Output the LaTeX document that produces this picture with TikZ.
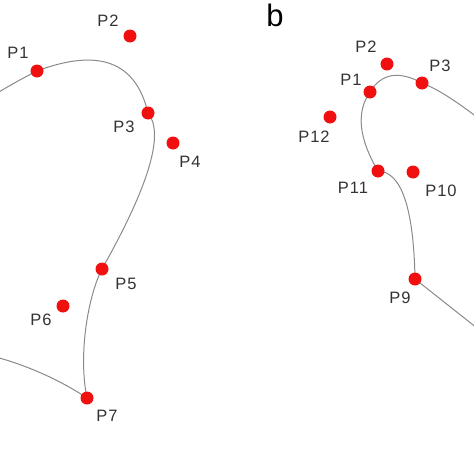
\documentclass[tikz,border=0pt]{standalone}
\usepackage{fontspec}
\setmainfont{Liberation Sans}
\newfontfamily\lblfont[LetterSpace=6]{Liberation Sans}
\usetikzlibrary{calc}
\definecolor{dotred}{HTML}{F01010}
\definecolor{curvegray}{HTML}{8A8A8A}
\definecolor{labelgray}{HTML}{333333}
\tikzset{
  dot/.style={circle,fill=dotred,inner sep=0pt,minimum size=13pt},
  lbl/.style={text=labelgray,font=\lblfont\fontsize{16.5}{16.5}\selectfont,inner sep=0pt},
  curve/.style={draw=curvegray,line width=1pt},
}
\begin{document}
\begin{tikzpicture}[x=1pt,y=-1pt]
\useasboundingbox (0,0) rectangle (474,474);
\clip (0,0) rectangle (474,474);
% ---- panel a ----
\coordinate (a0) at (-6,95);
\coordinate (a8) at (-12,355);
\coordinate (c1) at (37,71);
\coordinate (c2) at (130,36);
\coordinate (c3) at (148,113);
\coordinate (c4) at (173,143);
\coordinate (c5) at (102,269);
\coordinate (c6) at (63,306);
\coordinate (c7) at (87,398);
\path[curve] (a0) .. controls (12,84) and (25,77) .. (c1)
  .. controls ($(c1)!2/3!(c2)$) and ($(c3)!2/3!(c2)$) .. (c3)
  .. controls ($(c3)!2/3!(c4)$) and ($(c5)!2/3!(c4)$) .. (c5)
  .. controls (88,296) and (78,355) .. (c7)
  .. controls (60,380) and (25,364) .. (a8);
\node[dot] (p1) at (c1) {};
\node[dot] (p2) at (c2) {};
\node[dot] (p3) at (c3) {};
\node[dot] (p4) at (c4) {};
\node[dot] (p5) at (c5) {};
\node[dot] (p6) at (c6) {};
\node[dot] (p7) at (c7) {};
\node[lbl] (l1) at (18,53) {P1};
\node[lbl] (l2) at (108,21) {P2};
\node[lbl] (l3) at (124,127) {P3};
\node[lbl] (l4) at (190,162) {P4};
\node[lbl] (l5) at (126,284) {P5};
\node[lbl] (l6) at (41,320) {P6};
\node[lbl] (l7) at (107,416) {P7};
% ---- panel b ----
\node[text=black,font=\fontsize{31}{31}\selectfont,inner sep=0pt] (b) at (275,15) {b};
\coordinate (b3e) at (482,121);
\coordinate (b9e) at (482,332);
\coordinate (k12) at (349,122);
\coordinate (d1) at (370,92);
\coordinate (d2) at (387,64);
\coordinate (d3) at (422,83);
\coordinate (d12) at (330,117);
\coordinate (d11) at (378,171);
\coordinate (d10) at (413,172);
\coordinate (d9) at (415,279);
\path[curve] (b3e) .. controls (460,104) and (440,90) .. (d3)
  .. controls ($(d3)!2/3!(d2)$) and ($(d1)!2/3!(d2)$) .. (d1)
  .. controls ($(d1)!2/3!(k12)$) and ($(d11)!2/3!(k12)$) .. (d11)
  .. controls ($(d11)!2/3!(d10)$) and ($(d9)!2/3!(d10)$) .. (d9)
  -- (b9e);
\node[dot] (q1) at (d1) {};
\node[dot] (q2) at (d2) {};
\node[dot] (q3) at (d3) {};
\node[dot] (q12) at (d12) {};
\node[dot] (q11) at (d11) {};
\node[dot] (q10) at (d10) {};
\node[dot] (q9) at (d9) {};
\node[lbl] (m2) at (366,47) {P2};
\node[lbl] (m1) at (351,80) {P1};
\node[lbl] (m3) at (440,66) {P3};
\node[lbl] (m12) at (314,137) {P12};
\node[lbl] (m11) at (353,188) {P11};
\node[lbl] (m10) at (441,191) {P10};
\node[lbl] (m9) at (400,298) {P9};
\end{tikzpicture}
\end{document}
